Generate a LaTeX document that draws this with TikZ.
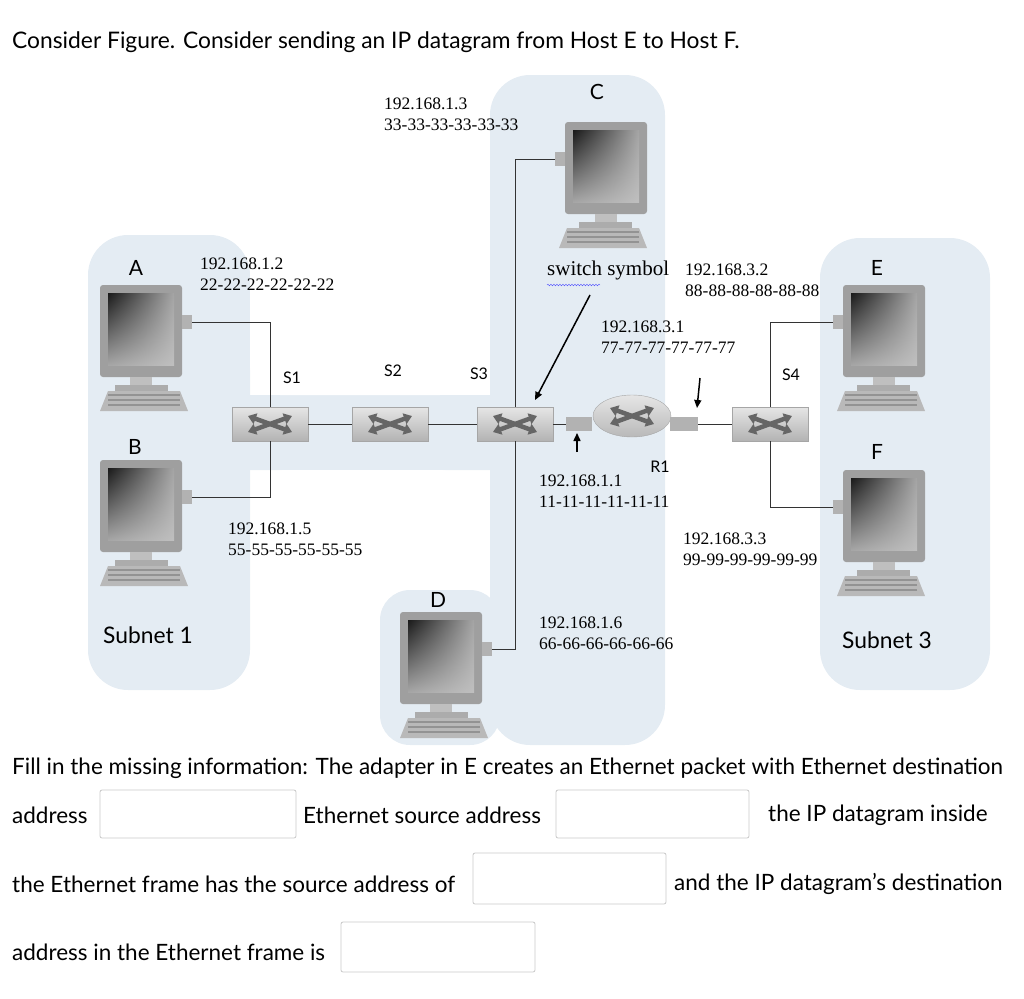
\documentclass[tikz,border=0pt]{standalone}
\usepackage{fontspec}
\setmainfont{Lato}
\newfontfamily\serif{Liberation Serif}
\usetikzlibrary{arrows.meta,shapes.geometric,decorations.pathmorphing,shadings,calc}
\definecolor{blob}{HTML}{E4ECF3}
\definecolor{boxc}{HTML}{C8C8C8}
\begin{document}
\begin{tikzpicture}[x=1pt,y=-1pt,
  lab/.style={font=\serif\fontsize{17.5}{21}\selectfont,align=left,anchor=north west,inner sep=0},
  sl/.style={font=\fontsize{16}{17}\selectfont,inner sep=0},
  big/.style={font=\fontsize{22.8}{26}\selectfont,inner sep=0},
  txt/.style={font=\fontsize{22.5}{26}\selectfont,inner sep=0,anchor=west},
  inbox/.style={draw=boxc,rounded corners=2pt,line width=0.8pt},
  wire/.style={line width=1pt,black!80},
  arr/.style={line width=1.5pt,-{Triangle[length=8pt,width=7pt]}},
  sw/.style={draw=gray!70,top color=gray!20,bottom color=gray!60,minimum width=76pt,minimum height=34pt,inner sep=0},
  xa/.style={gray!80!black,line width=4.5pt,{Triangle[length=8pt,width=11pt]}-{Triangle[length=8pt,width=11pt]}},
]
\useasboundingbox (0,0) rectangle (1024,998);
% blobs
\fill[blob,rounded corners=40pt] (88,235) rectangle (250,690);
\fill[blob,rounded corners=20pt] (230,395) rectangle (560,470);
\fill[blob,rounded corners=40pt] (490,75) rectangle (665,745);
\fill[blob,rounded corners=40pt] (820,238) rectangle (990,690);
\fill[white,rounded corners=30pt] (250,100) rectangle (470,395);
\fill[white,rounded corners=30pt] (255,470) rectangle (470,590);
\fill[blob,rounded corners=30pt] (380,590) rectangle (500,745);
% computers
\foreach \x/\y/\s in {100/285/1,100/460/1,647/122/-1,400/612/1,925/285/-1,925/470/-1}{
  \begin{scope}[shift={(\x,\y)},xscale=\s]
    \fill[gray!75,rounded corners=3pt] (0,0) rectangle (82,92);
    \shade[upper left=black!90,lower right=gray!50,upper right=gray!70,lower left=gray!70] (8,8) rectangle (74,80);
    \fill[gray!60] (82,30) rectangle (92,44);
    \fill[gray!50] (30,92) rectangle (52,100);
    \fill[gray!65] (15,100) rectangle (68,106);
    \fill[gray!55] (8,106) -- (80,106) -- (88,126) -- (0,126) -- cycle;
    \foreach \k in {110,115,120} \draw[gray!85,line width=1.5pt] (8,\k) -- (80,\k);
  \end{scope}}
\coordinate (Apt) at (192,322);
\coordinate (Bpt) at (192,497);
\coordinate (Cpt) at (555,159);
\coordinate (Dpt) at (492,649);
\coordinate (Ept) at (833,322);
\coordinate (Fpt) at (833,507);
% switches
\node[sw] (S1) at (270,424) {};
\node[sw] (S2) at (390,424) {};
\node[sw] (S3) at (515,424) {};
\node[sw] (S4) at (770,424) {};
\node[draw=gray!70,ellipse,top color=gray!20,bottom color=gray!55,minimum width=78pt,minimum height=42pt,inner sep=0] (R1) at (632,416) {};
% wires
\draw[wire] (Apt) -| (S1.north);
\draw[wire] (Bpt) -| (S1.south);
\draw[wire] (S1.east) -- (S2.west);
\draw[wire] (S2.east) -- (S3.west);
\draw[wire] (S3.east) -- (566,424);
\draw[wire] (698,424) -- (S4.west);
\draw[wire] (Cpt) -| (S3.north);
\draw[wire] (Dpt) -| (S3.south);
\draw[wire] (Ept) -| (S4.north);
\draw[wire] (Fpt) -| (S4.south);
\fill[gray!60] (566,417) rectangle (592,431);
\fill[gray!60] (670,417) rectangle (698,431);
\foreach \s in {S1,S2,S3,S4,R1}{
  \draw[xa] ($(\s.center)+(-22,-8)$) -- ($(\s.center)+(22,8)$);
  \draw[xa] ($(\s.center)+(-22,8)$) -- ($(\s.center)+(22,-8)$);
}
% arrows
\draw[arr] (590,295) -- (535,400);
\draw[arr] (577,452) -- (577,433);
\draw[arr] (700,378) -- (697,408);
% labels
\node[big,anchor=west] at (12,42) {Consider Figure. Consider sending an IP datagram from Host E to Host F.};
\node[sl,font=\fontsize{21}{21}\selectfont] at (136,268) {A};
\node[sl,font=\fontsize{21}{21}\selectfont] at (135,447) {B};
\node[sl,font=\fontsize{21}{21}\selectfont] at (597,92) {C};
\node[sl,font=\fontsize{21}{21}\selectfont] at (438,600) {D};
\node[sl,font=\fontsize{21}{21}\selectfont] at (877,268) {E};
\node[sl,font=\fontsize{21}{21}\selectfont] at (877,452) {F};
\node[sl] at (292,378) {S1};
\node[sl] at (393,371) {S2};
\node[sl] at (479,374) {S3};
\node[sl] at (791,375) {S4};
\node[sl] at (660,467) {R1};
\node[big,anchor=west] at (103,635) {Subnet 1};
\node[big,anchor=west] at (842,640) {Subnet 3};
\node[lab] at (200,258) {192.168.1.2\\22-22-22-22-22-22};
\node[lab] at (384,98) {192.168.1.3\\33-33-33-33-33-33};
\node[lab,font=\serif\fontsize{21}{24}\selectfont] at (547,261) {switch symbol};
\draw[blue!70,decorate,decoration={snake,amplitude=0.8pt,segment length=3pt},line width=0.4pt] (547,285) -- (600,285);
\node[lab] at (685,264) {192.168.3.2\\88-88-88-88-88-88};
\node[lab] at (601,321) {192.168.3.1\\77-77-77-77-77-77};
\node[lab] at (539,475) {192.168.1.1\\11-11-11-11-11-11};
\node[lab] at (228,523) {192.168.1.5\\55-55-55-55-55-55};
\node[lab] at (683,533) {192.168.3.3\\99-99-99-99-99-99};
\node[lab] at (539,617) {192.168.1.6\\66-66-66-66-66-66};
% form
\node[txt] at (12,768) {Fill in the missing information: The adapter in E creates an Ethernet packet with Ethernet destination};
\node[txt] at (12,815) {address};
\draw[inbox] (100,790) rectangle (296,838);
\node[txt] at (303,815) {Ethernet source address};
\draw[inbox] (556,790) rectangle (749,838);
\node[txt] at (768,815) {the IP datagram inside};
\node[txt] at (12,884) {the Ethernet frame has the source address of};
\draw[inbox] (473,853) rectangle (666,904);
\node[txt] at (674,884) {and the IP datagram’s destination};
\node[txt] at (12,952) {address in the Ethernet frame is};
\draw[inbox] (341,922) rectangle (535,972);
\end{tikzpicture}
\end{document}
